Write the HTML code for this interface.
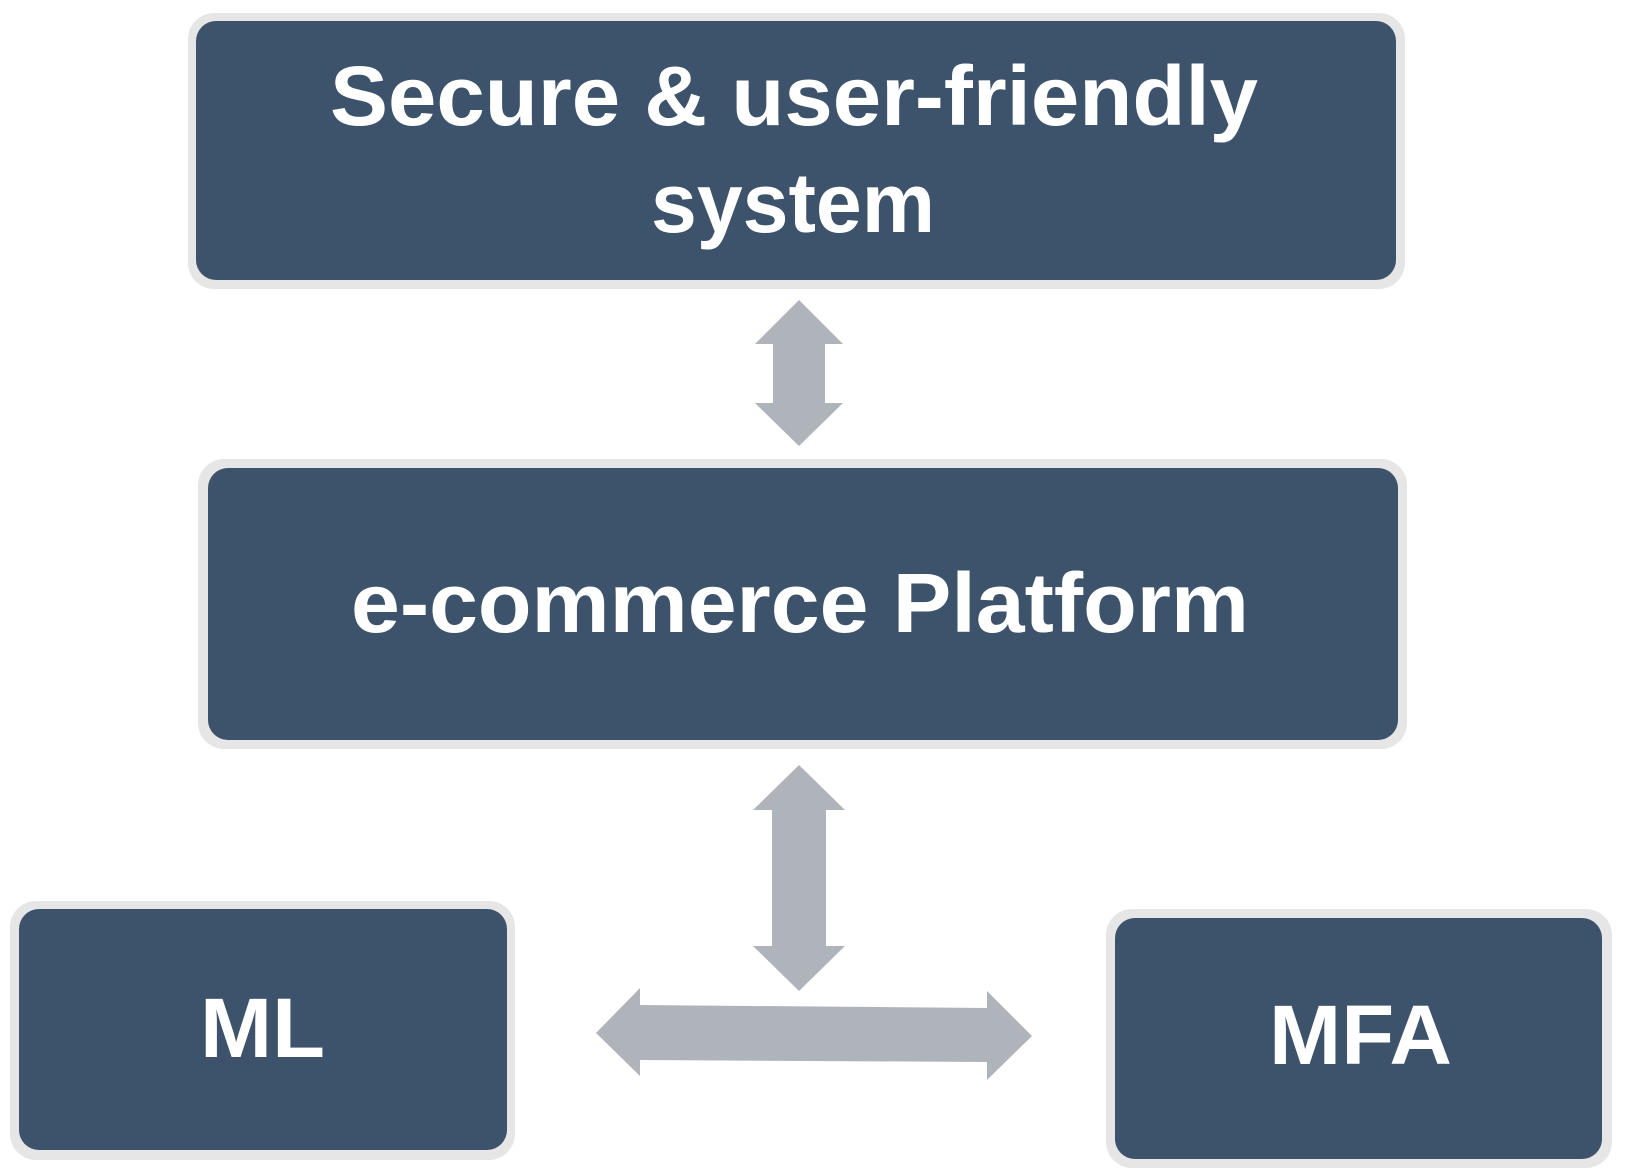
<!DOCTYPE html>
<html><head><meta charset="utf-8"><style>html,body{margin:0;padding:0;background:#fff}svg{display:block}</style></head>
<body>
<svg width="1627" height="1174" viewBox="0 0 1627 1174" xmlns="http://www.w3.org/2000/svg">
<g fill="#e6e6e6">
<rect x="188" y="13" width="1217" height="276" rx="26"/>
<rect x="198" y="459" width="1209" height="290" rx="26"/>
<rect x="10" y="901" width="505" height="259" rx="26"/>
<rect x="1106" y="909" width="506" height="259" rx="26"/>
</g>
<g fill="#3d536b">
<rect x="196" y="21" width="1200" height="259" rx="20"/>
<rect x="208" y="468" width="1190" height="272" rx="20"/>
<rect x="19" y="909" width="488" height="241" rx="20"/>
<rect x="1115" y="918" width="487" height="241" rx="20"/>
</g>
<g fill="#afb4bb">
<polygon points="799,300 843,344 825,344 825,403 843,403 799,446 755,403 773,403 773,344 755,344"/>
<polygon points="799,765 845,810 826,810 826,946 845,946 799,991 753,946 772,946 772,810 753,810"/>
<polygon points="596,1033 640,988 640,1005 987,1008 987,991 1032,1036 987,1080 987,1062 640,1060 640,1076"/>
</g>
<g fill="#fff" font-family="Liberation Sans, sans-serif" font-weight="bold">
<text x="330" y="125" font-size="84" textLength="928" lengthAdjust="spacingAndGlyphs">Secure &amp; user-friendly</text>
<text x="651" y="232" font-size="84" textLength="284" lengthAdjust="spacingAndGlyphs">system</text>
<text x="351" y="632" font-size="84" textLength="898" lengthAdjust="spacingAndGlyphs">e-commerce Platform</text>
<text x="200" y="1057" font-size="84" textLength="125" lengthAdjust="spacingAndGlyphs">ML</text>
<text x="1269" y="1064" font-size="84" textLength="183" lengthAdjust="spacingAndGlyphs">MFA</text>
</g>
</svg>
</body></html>
